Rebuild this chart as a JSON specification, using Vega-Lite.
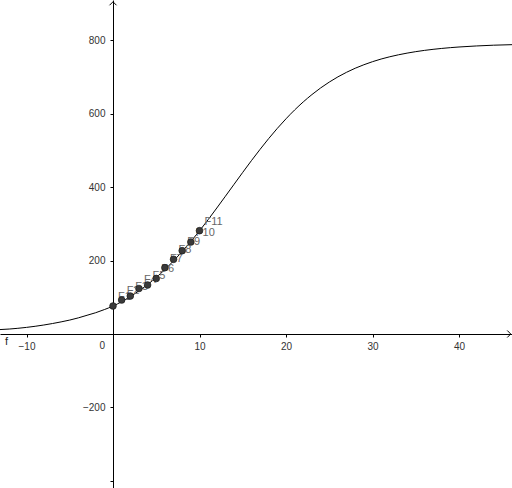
{
  "$schema": "https://vega.github.io/schema/vega-lite/v6.json",
  "width": 512,
  "height": 488,
  "autosize": {"type": "none"},
  "padding": 0,
  "background": "white",
  "config": {"view": {"stroke": null}, "font": "Liberation Sans"},
  "datasets": {
    "curve": [
      {"x": -13.1, "y": 12}, {"x": -12, "y": 13.5}, {"x": -11, "y": 15.5}, {"x": -10, "y": 18},
      {"x": -9, "y": 21}, {"x": -8, "y": 24.5}, {"x": -7, "y": 28.5}, {"x": -6, "y": 33},
      {"x": -5, "y": 38}, {"x": -4, "y": 44}, {"x": -3, "y": 51}, {"x": -2, "y": 58},
      {"x": -1, "y": 66.5}, {"x": 0, "y": 76}, {"x": 1, "y": 88}, {"x": 2, "y": 101.8},
      {"x": 3, "y": 117.3}, {"x": 4, "y": 134.7}, {"x": 5, "y": 154.1}, {"x": 6, "y": 175.6},
      {"x": 7, "y": 199.1}, {"x": 8, "y": 224.6}, {"x": 9, "y": 252}, {"x": 10, "y": 281},
      {"x": 11, "y": 311.5}, {"x": 12, "y": 343.2}, {"x": 13, "y": 375.4}, {"x": 14, "y": 407.9},
      {"x": 15, "y": 440.3}, {"x": 16, "y": 472.1}, {"x": 17, "y": 502.9}, {"x": 18, "y": 532.4},
      {"x": 19, "y": 560.2}, {"x": 20, "y": 586.2}, {"x": 21, "y": 610.3}, {"x": 22, "y": 632.3},
      {"x": 23, "y": 652.2}, {"x": 24, "y": 670.2}, {"x": 25, "y": 686.2}, {"x": 26, "y": 700.4},
      {"x": 27, "y": 712.9}, {"x": 28, "y": 723.9}, {"x": 29, "y": 733.4}, {"x": 30, "y": 741.8},
      {"x": 31, "y": 749}, {"x": 32, "y": 755.2}, {"x": 33, "y": 760.5}, {"x": 34, "y": 765.1},
      {"x": 35, "y": 769.1}, {"x": 36, "y": 772.5}, {"x": 37, "y": 775.4}, {"x": 38, "y": 777.9},
      {"x": 39, "y": 780}, {"x": 40, "y": 781.8}, {"x": 42, "y": 784.6}, {"x": 44, "y": 786.7},
      {"x": 46.2, "y": 788.2}
    ],
    "points": [
      {"x": 0, "y": 76.3, "name": "F1"}, {"x": 1, "y": 92.6, "name": "F2"},
      {"x": 2, "y": 103.5, "name": "F3"}, {"x": 3, "y": 123.9, "name": "F4"},
      {"x": 4, "y": 133.5, "name": "F5"}, {"x": 5, "y": 151.2, "name": "F6"},
      {"x": 6, "y": 180.6, "name": "F7"}, {"x": 7, "y": 203.5, "name": "F8"},
      {"x": 8, "y": 226.9, "name": "F9"}, {"x": 9, "y": 250.6, "name": "F10"},
      {"x": 10, "y": 281.4, "name": "F11"}
    ],
    "notes": [
      {"x": 0, "y": 0, "text": "0", "kind": "origin"},
      {"x": -12.5, "y": 0, "text": "f", "kind": "fname"}
    ],
    "arrows": [
      {"x": 45.78, "y": 0, "dir": "right"},
      {"x": 0, "y": 900.2, "dir": "up"}
    ]
  },
  "layer": [
    {
      "data": {"name": "curve"},
      "mark": {"type": "line", "color": "black", "strokeWidth": 1, "interpolate": "monotone"},
      "encoding": {
        "x": {
          "field": "x", "type": "quantitative",
          "scale": {"domain": [-13.064, 46.127], "nice": false, "zero": false},
          "axis": {
            "orient": "bottom", "offset": -154, "title": null, "grid": false,
            "values": [-10, 10, 20, 30, 40],
            "domainColor": "black", "domainWidth": 1, "tickColor": "black", "tickSize": 3,
            "labelPadding": 4, "labelFontSize": 10, "labelColor": "#333333",
            "labelFlush": false, "labelOverlap": false
          }
        },
        "y": {
          "field": "y", "type": "quantitative",
          "scale": {"domain": [-419.5, 909.8], "nice": false, "zero": false},
          "axis": {
            "orient": "left", "offset": -113, "title": null, "grid": false,
            "values": [-400, -200, 200, 400, 600, 800],
            "labelExpr": "datum.value == -400 ? '' : datum.label",
            "domainColor": "black", "domainWidth": 1, "tickColor": "black", "tickSize": 3,
            "labelPadding": 5, "labelFontSize": 10, "labelColor": "#333333",
            "labelFlush": false, "labelOverlap": false
          }
        }
      }
    },
    {
      "data": {"name": "points"},
      "mark": {"type": "text", "align": "left", "baseline": "alphabetic", "dx": 5, "dy": -6, "fontSize": 11, "color": "#666666"},
      "encoding": {
        "x": {"field": "x", "type": "quantitative"},
        "y": {"field": "y", "type": "quantitative"},
        "text": {"field": "name"}
      }
    },
    {
      "data": {"name": "points"},
      "mark": {"type": "point", "filled": true, "size": 45, "fill": "#3a3a3a", "stroke": "#1a1a1a", "strokeWidth": 0.7, "opacity": 1},
      "encoding": {
        "x": {"field": "x", "type": "quantitative"},
        "y": {"field": "y", "type": "quantitative"}
      }
    },
    {
      "data": {"name": "notes"},
      "transform": [{"filter": "datum.kind == 'origin'"}],
      "mark": {"type": "text", "align": "right", "baseline": "top", "dx": -8, "dy": 7, "fontSize": 10, "color": "#333333"},
      "encoding": {
        "x": {"field": "x", "type": "quantitative"},
        "y": {"field": "y", "type": "quantitative"},
        "text": {"field": "text"}
      }
    },
    {
      "data": {"name": "notes"},
      "transform": [{"filter": "datum.kind == 'fname'"}],
      "mark": {"type": "text", "align": "left", "baseline": "top", "dy": 2, "fontSize": 11, "color": "#222222"},
      "encoding": {
        "x": {"field": "x", "type": "quantitative"},
        "y": {"field": "y", "type": "quantitative"},
        "text": {"field": "text"}
      }
    },
    {
      "data": {"name": "arrows"},
      "transform": [{"filter": "datum.dir == 'right'"}],
      "mark": {"type": "point", "shape": "M-0.5,-1L0.5,0L-0.5,1", "filled": false, "size": 49, "stroke": "black", "strokeWidth": 1, "opacity": 1},
      "encoding": {
        "x": {"field": "x", "type": "quantitative"},
        "y": {"field": "y", "type": "quantitative"}
      }
    },
    {
      "data": {"name": "arrows"},
      "transform": [{"filter": "datum.dir == 'up'"}],
      "mark": {"type": "point", "shape": "M-1,0.5L0,-0.5L1,0.5", "filled": false, "size": 49, "stroke": "black", "strokeWidth": 1, "opacity": 1},
      "encoding": {
        "x": {"field": "x", "type": "quantitative"},
        "y": {"field": "y", "type": "quantitative"}
      }
    }
  ]
}
